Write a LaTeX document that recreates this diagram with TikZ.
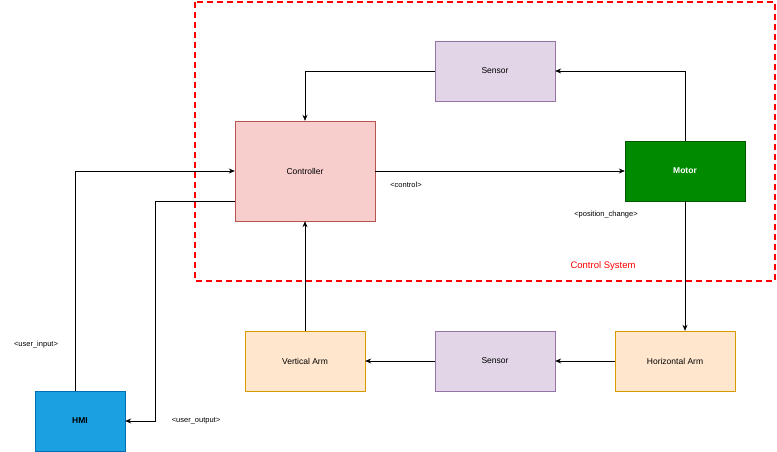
\documentclass[tikz,border=0pt]{standalone}
\usepackage{fontspec}
\setmainfont{Liberation Sans}
\usetikzlibrary{arrows.meta}
\definecolor{purp}{HTML}{E1D5E7}\definecolor{purpd}{HTML}{9673A6}
\definecolor{pinkf}{HTML}{F8CECC}\definecolor{pinkd}{HTML}{B85450}
\definecolor{grn}{HTML}{008A00}\definecolor{grnd}{HTML}{005700}
\definecolor{orf}{HTML}{FFE6CC}\definecolor{ord}{HTML}{D79B00}
\definecolor{blu}{HTML}{1BA1E2}\definecolor{blud}{HTML}{006EAF}
\begin{document}
\begin{tikzpicture}[x=1pt,y=-1pt,
 box/.style={draw,minimum width=120pt,minimum height=60pt,inner sep=0pt,font=\fontsize{8.5}{10}\selectfont},
 arr/.style={draw,-{Stealth[length=6pt,width=5pt]},line width=0.7pt},
 lbl/.style={font=\fontsize{7.5}{9}\selectfont}]
\useasboundingbox (0,0) rectangle (777,452);
\draw[red,dashed,line width=2pt,dash pattern=on 6pt off 4pt] (195,2) rectangle (775,281);
\node[red,font=\fontsize{9.5}{11}\selectfont] (cs) at (603,266) {Control System};
\node[box,fill=purp,draw=purpd] (s1) at (495,71) {Sensor};
\node[box,fill=pinkf,draw=pinkd,minimum width=140pt,minimum height=100pt] (c) at (305,171) {Controller};
\node[box,fill=grn,draw=grnd,text=white,font=\fontsize{8.5}{10}\selectfont\bfseries] (m) at (685,171) {Motor};
\node[box,fill=orf,draw=ord] (va) at (305,361) {Vertical Arm};
\node[box,fill=purp,draw=purpd] (s2) at (495,361) {Sensor};
\node[box,fill=orf,draw=ord] (ha) at (675,361) {Horizontal Arm};
\node[box,fill=blu,draw=blud,minimum width=90pt,font=\fontsize{8.5}{10}\selectfont\bfseries] (h) at (80,421) {HMI};
\draw[arr] (m.north) |- (s1.east);
\draw[arr] (s1.west) -| (c.north);
\draw[arr] (c.east) -- (m.west);
\node[lbl] (l1) at (406,185) {<control>};
\draw[arr] (m.south) -- (m.south|-ha.north);
\node[lbl] (l2) at (606,215) {<position\_change>};
\draw[arr] (ha.west) -- (s2.east);
\draw[arr] (s2.west) -- (va.east);
\draw[arr] (va.north) -- (c.south);
\coordinate (hu) at (75,391);
\draw[arr] (hu) |- (c.west);
\node[lbl] (l3) at (36,345) {<user\_input>};
\coordinate (co) at (235,201);
\draw[arr] (co) -- (155,201) |- (h.east);
\node[lbl] (l4) at (196,421) {<user\_output>};
\end{tikzpicture}
\end{document}
